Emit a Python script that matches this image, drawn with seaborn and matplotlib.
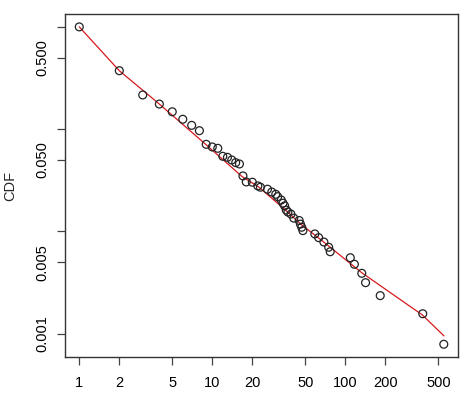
import matplotlib
matplotlib.use("Agg")
import matplotlib.pyplot as plt
from matplotlib.ticker import FixedLocator, FixedFormatter, NullLocator
import seaborn as sns
import pandas as pd

deg = [1, 2, 3, 4, 5, 6, 7, 8, 9, 10, 11, 12, 13, 14, 15, 16, 17, 18, 20, 22,
       23, 26, 28, 30, 31, 33, 34, 35, 36, 37, 39, 41, 45, 46, 47, 48, 59, 63,
       69, 75, 77, 109, 117, 133, 142, 183, 382, 550]
cdf = [1.0, 0.373, 0.216, 0.176, 0.148, 0.125, 0.109, 0.0967, 0.0711, 0.0670,
       0.0650, 0.0543, 0.0531, 0.0500, 0.0471, 0.0457, 0.0349, 0.0305, 0.0303,
       0.0279, 0.0271, 0.0259, 0.0243, 0.0231, 0.0219, 0.0203, 0.0189, 0.0178,
       0.0162, 0.0155, 0.0148, 0.0135, 0.0128, 0.0118, 0.0110, 0.0102, 0.00946,
       0.00871, 0.00789, 0.00701, 0.00634, 0.00554, 0.00478, 0.00390, 0.00316,
       0.00236, 0.00157, 0.00079]

# fitted curve
fit_x = [1, 2, 4, 8.92, 16.8, 22.2, 34.2, 47, 68.3, 133, 379, 552]
fit_y = [1.0, 0.373, 0.176, 0.0711, 0.0343, 0.0274, 0.0169, 0.0116, 0.00795,
         0.00395, 0.00153, 0.000953]

xticks = [1, 2, 5, 10, 20, 50, 100, 200, 500]
xtick_labels = ['1', '2', '5', '10', '20', '50', '100', '200', '500']
yticks = [0.001, 0.005, 0.01, 0.05, 0.1, 0.5, 1]
ytick_labels = ['0.001', '0.005', '', '0.050', '', '0.500', '']

pts = pd.DataFrame({'x': deg, 'y': cdf})
fit = pd.DataFrame({'x': fit_x, 'y': fit_y})

sns.set_style("white")
plt.rcParams['font.family'] = ['Liberation Sans', 'DejaVu Sans']

fig = plt.figure(figsize=(4.74, 3.95), dpi=100)
ax = fig.add_axes([0.1371, 0.0962, 0.8291, 0.8684])

sns.lineplot(data=fit, x='x', y='y', color='#d7191c', linewidth=0.9,
             sort=False, estimator=None, ax=ax, zorder=2)
sns.scatterplot(data=pts, x='x', y='y', marker='o', s=32,
                facecolor='none', edgecolor='#222222', linewidth=0.9,
                ax=ax, zorder=3)

ax.set_xscale('log')
ax.set_yscale('log')
ax.set_xlim(0.781, 703)
ax.set_ylim(0.000593, 1.337)

ax.xaxis.set_major_locator(FixedLocator(xticks))
ax.xaxis.set_major_formatter(FixedFormatter(xtick_labels))
ax.xaxis.set_minor_locator(NullLocator())
ax.yaxis.set_major_locator(FixedLocator(yticks))
ax.yaxis.set_major_formatter(FixedFormatter(ytick_labels))
ax.yaxis.set_minor_locator(NullLocator())

ax.tick_params(axis='both', which='major', direction='out', length=5.5,
               width=0.9, color='#444444', labelsize=10.5, labelcolor='black',
               bottom=True, left=True)
ax.tick_params(axis='x', pad=8)
ax.tick_params(axis='y', pad=6)
for lab in ax.get_yticklabels():
    lab.set_rotation(90)
    lab.set_va('center')

for sp in ax.spines.values():
    sp.set_visible(True)
    sp.set_color('#333333')
    sp.set_linewidth(1.0)

ax.set_xlabel('')
ax.set_ylabel('CDF', fontsize=10.5, labelpad=13)

fig.savefig('out.png', dpi=100)
